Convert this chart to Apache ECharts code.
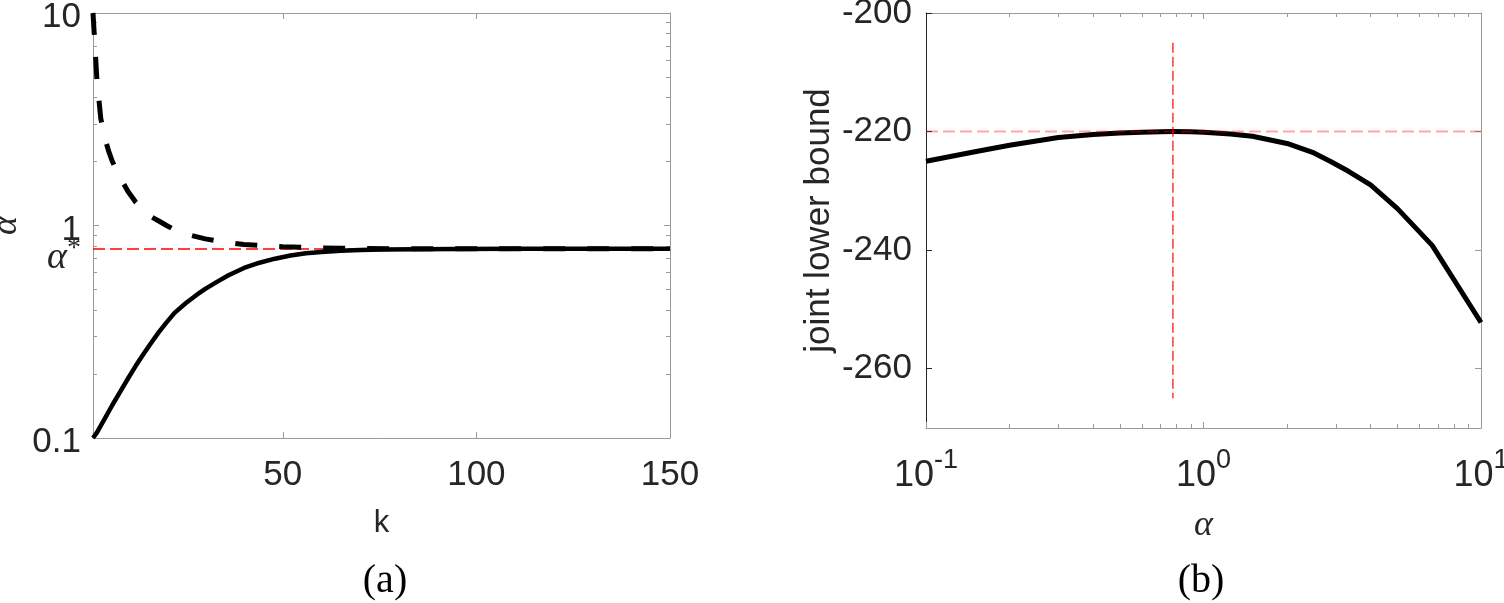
<!DOCTYPE html>
<html>
<head>
<meta charset="utf-8">
<script src="https://cdn.jsdelivr.net/npm/echarts@6/dist/echarts.min.js"></script>
<style>
html,body{margin:0;padding:0;background:#fff;}
#chart{width:1504px;height:603px;}
</style>
</head>
<body>
<div id="chart"></div>
<script>
// ---- panel (a) data ----
const kLower = [1,2,4,6,8,10,12,14,16,18,20,22,25,28,30,33,36,40,44,48,52,56,60,65,70,76,85,95,110,130,150];
const alphaLower = [0.100,0.106,0.123,0.143,0.165,0.190,0.218,0.248,0.280,0.315,0.350,0.387,0.432,0.475,0.503,0.543,0.583,0.631,0.668,0.698,0.722,0.740,0.751,0.760,0.766,0.770,0.774,0.776,0.777,0.777,0.777];
const kUpper = [1,2,3,4,5,6,8,10,12,14,16,18,20,22,25,30,35,40,45,50,55,60,65,70,80,90,100,120,150];
const alphaUpper = [10,4.9,3.2,2.6,2.25,2.0,1.68,1.45,1.29,1.18,1.10,1.05,1.00,0.955,0.91,0.865,0.835,0.814,0.803,0.795,0.789,0.784,0.781,0.779,0.777,0.777,0.777,0.777,0.777];
const alphaStar = 0.776;
const kRange = [1, 150];
const kTicks = [50, 100, 150];
const kTopTicks = [50, 100];
const alphaTicksA = [0.1, 1, 10];
const alphaLabelsA = [0.1, alphaStar, 1, 10];
const alphaMinorA = [0.2,0.3,0.4,0.5,0.6,0.7,0.8,0.9,2,3,4,5,6,7,8,9];

// ---- panel (b) data ----
const alphaGrid = [0.1,0.15,0.2,0.3,0.4,0.5,0.6,0.7,0.776,0.9,1.0,1.25,1.5,2.0,2.5,2.86,3.33,4,5,6.67,10];
const jointBound = [-225.0,-223.4,-222.3,-221.0,-220.5,-220.25,-220.1,-220.02,-220.0,-220.03,-220.1,-220.4,-220.8,-222.0,-223.6,-225.0,-226.7,-229.0,-233.0,-239.2,-252.2];
const boundMax = -220;
const alphaRangeB = [0.1, 10];
const vLineRange = [-205, -265];
const boundTicks = [-260, -240, -220, -200];
const alphaTicksB = [0.1, 1, 10];
const alphaMinorB = [0.2,0.3,0.4,0.5,0.6,0.7,0.8,0.9,2,3,4,5,6,7,8,9];

const SANS = 'Liberation Sans, Arial, Helvetica, sans-serif';
const SERIF = 'Liberation Serif, Times New Roman, serif';
const TXT = '#262626';
const GRAY = '#9a9a9a';

const zip = (xs, ys) => xs.map((x, i) => [x, ys[i]]);

function tickAxis(extra) {
  return Object.assign({
    splitLine: {show: false},
    axisLine: {show: false, onZero: false},
    axisLabel: {show: false},
    axisTick: {show: false},
    silent: true
  }, extra);
}

const chart = echarts.init(document.getElementById('chart'), null, {renderer: 'canvas'});

const option = {
  backgroundColor: '#ffffff',
  animation: false,
  grid: [
    {left: 93, top: 13, width: 577, height: 425, outerBoundsMode: 'none', containLabel: false},
    {left: 926, top: 13, width: 555, height: 415, outerBoundsMode: 'none', containLabel: false}
  ],
  xAxis: [
    // 0: panel a bottom
    tickAxis({type: 'value', gridIndex: 0, position: 'bottom', min: kRange[0], max: kRange[1],
      axisLine: {show: true, onZero: false, lineStyle: {color: GRAY, width: 1}},
      axisTick: {show: true, inside: true, length: 6, customValues: kTicks, lineStyle: {color: GRAY}},
      axisLabel: {show: true, customValues: kTicks, margin: 20, color: TXT, fontFamily: SANS, fontSize: 35},
      name: 'k', nameLocation: 'middle', nameGap: 70,
      nameTextStyle: {color: TXT, fontFamily: SANS, fontSize: 31}
    }),
    // 1: panel a top
    tickAxis({type: 'value', gridIndex: 0, position: 'top', min: kRange[0], max: kRange[1],
      axisLine: {show: true, onZero: false, lineStyle: {color: GRAY, width: 1}},
      axisTick: {show: true, inside: true, length: 6, customValues: kTopTicks, lineStyle: {color: GRAY}}
    }),
    // 2: panel b bottom major
    tickAxis({type: 'log', logBase: 10, gridIndex: 1, position: 'bottom', min: alphaRangeB[0], max: alphaRangeB[1],
      axisLine: {show: true, onZero: false, lineStyle: {color: GRAY, width: 1}},
      axisTick: {show: true, inside: true, length: 6, customValues: alphaTicksB, lineStyle: {color: GRAY}},
      axisLabel: {show: true, customValues: alphaTicksB, margin: 19, color: TXT, fontFamily: SANS, fontSize: 35,
        formatter: function (v) {
          const e = Math.round(Math.log10(v));
          return '{m|10}{s|' + e + '}';
        },
        rich: {
          m: {fontFamily: SANS, fontSize: 36, lineHeight: 36, color: TXT, verticalAlign: 'bottom'},
          s: {fontFamily: SANS, fontSize: 27, lineHeight: 47, color: TXT, verticalAlign: 'top', padding: [0, 0, 20, 0]}
        }
      },
      name: 'α', nameLocation: 'middle', nameGap: 80,
      nameTextStyle: {color: TXT, fontFamily: SERIF, fontStyle: 'italic', fontSize: 36}
    }),
    // 3: panel b bottom minor
    tickAxis({type: 'log', logBase: 10, gridIndex: 1, position: 'bottom', min: alphaRangeB[0], max: alphaRangeB[1],
      axisTick: {show: true, inside: true, length: 4, customValues: alphaMinorB, lineStyle: {color: GRAY}}
    }),
    // 4: panel b top major
    tickAxis({type: 'log', logBase: 10, gridIndex: 1, position: 'top', min: alphaRangeB[0], max: alphaRangeB[1],
      axisLine: {show: true, onZero: false, lineStyle: {color: GRAY, width: 1}},
      axisTick: {show: true, inside: true, length: 6, customValues: [1], lineStyle: {color: GRAY}}
    }),
    // 5: panel b top minor
    tickAxis({type: 'log', logBase: 10, gridIndex: 1, position: 'top', min: alphaRangeB[0], max: alphaRangeB[1],
      axisTick: {show: true, inside: true, length: 4, customValues: alphaMinorB, lineStyle: {color: GRAY}}
    })
  ],
  yAxis: [
    // 0: panel a left major + labels
    tickAxis({type: 'log', logBase: 10, gridIndex: 0, position: 'left', min: 0.1, max: 10,
      axisLine: {show: true, onZero: false, lineStyle: {color: GRAY, width: 1}},
      axisTick: {show: true, inside: true, length: 6, customValues: alphaTicksA, lineStyle: {color: GRAY}},
      axisLabel: {show: true, customValues: alphaLabelsA, margin: 12, color: TXT, fontFamily: SANS, fontSize: 35,
        padding: [9, 0, 0, 0],
        formatter: function (v) {
          if (Math.abs(v - alphaStar) < 1e-3) return '{a|α}{s|*}';
          return String(Number(v.toPrecision(6)));
        },
        rich: {
          a: {fontFamily: SERIF, fontStyle: 'italic', fontSize: 38, lineHeight: 48, color: TXT, verticalAlign: 'bottom', padding: [10, 0, 0, 0]},
          s: {fontFamily: SERIF, fontSize: 28, lineHeight: 33, color: TXT, verticalAlign: 'top', padding: [5, 0, 0, 0]}
        }
      },
      name: 'α', nameLocation: 'middle', nameGap: 68, nameRotate: 90,
      nameTextStyle: {color: TXT, fontFamily: SERIF, fontStyle: 'italic', fontSize: 36}
    }),
    // 1: panel a left minor
    tickAxis({type: 'log', logBase: 10, gridIndex: 0, position: 'left', min: 0.1, max: 10,
      axisTick: {show: true, inside: true, length: 4, customValues: alphaMinorA, lineStyle: {color: GRAY}}
    }),
    // 2: panel a right major
    tickAxis({type: 'log', logBase: 10, gridIndex: 0, position: 'right', min: 0.1, max: 10,
      axisLine: {show: true, onZero: false, lineStyle: {color: GRAY, width: 1}},
      axisTick: {show: true, inside: true, length: 6, customValues: [1], lineStyle: {color: GRAY}}
    }),
    // 3: panel a right minor
    tickAxis({type: 'log', logBase: 10, gridIndex: 0, position: 'right', min: 0.1, max: 10,
      axisTick: {show: true, inside: true, length: 4, customValues: alphaMinorA, lineStyle: {color: GRAY}}
    }),
    // 4: panel b left
    tickAxis({type: 'value', gridIndex: 1, position: 'left', min: -270, max: -200,
      axisLine: {show: true, onZero: false, lineStyle: {color: TXT, width: 1}},
      axisTick: {show: true, inside: true, length: 6, customValues: boundTicks, lineStyle: {color: TXT}},
      axisLabel: {show: true, customValues: boundTicks, margin: 14, color: TXT, fontFamily: SANS, fontSize: 35,
        padding: [7, 0, 0, 0]},
      name: 'joint lower bound', nameLocation: 'middle', nameGap: 89, nameRotate: 90,
      nameTextStyle: {color: TXT, fontFamily: SANS, fontSize: 35}
    }),
    // 5: panel b right
    tickAxis({type: 'value', gridIndex: 1, position: 'right', min: -270, max: -200,
      axisLine: {show: true, onZero: false, lineStyle: {color: GRAY, width: 1}},
      axisTick: {show: true, inside: true, length: 6, customValues: boundTicks, lineStyle: {color: GRAY}}
    })
  ],
  series: [
    {type: 'line', xAxisIndex: 0, yAxisIndex: 0, data: zip(kRange, [alphaStar, alphaStar]), showSymbol: false, symbol: 'none',
      lineStyle: {color: '#ff0000', width: 1.5, type: [12, 5]}, z: 2, silent: true},
    {type: 'line', xAxisIndex: 0, yAxisIndex: 0, data: zip(kLower, alphaLower), showSymbol: false, symbol: 'none', smooth: false,
      lineStyle: {color: '#000000', width: 4.5}, z: 3, silent: true},
    {type: 'line', xAxisIndex: 0, yAxisIndex: 0, data: zip(kUpper, alphaUpper), showSymbol: false, symbol: 'none', smooth: false,
      lineStyle: {color: '#000000', width: 5, type: [22, 22]}, z: 3, silent: true},
    {type: 'line', xAxisIndex: 2, yAxisIndex: 4, data: zip(alphaGrid, jointBound), showSymbol: false, symbol: 'none',
      lineStyle: {color: '#000000', width: 5, join: 'round'}, z: 3, silent: true},
    {type: 'line', xAxisIndex: 2, yAxisIndex: 4, data: zip(alphaRangeB, [boundMax, boundMax]), showSymbol: false, symbol: 'none',
      lineStyle: {color: 'rgba(255,0,0,0.35)', width: 2, type: [12, 5]}, z: 4, silent: true},
    {type: 'line', xAxisIndex: 2, yAxisIndex: 4, data: zip([alphaStar, alphaStar], vLineRange), showSymbol: false, symbol: 'none',
      lineStyle: {color: '#ff0000', width: 1.2, type: [10, 4]}, z: 4, silent: true}
  ],
  graphic: [
    {type: 'text', x: 385, y: 581, silent: true,
      style: {text: '(a)', fill: '#000', font: '40px ' + SERIF, textAlign: 'center', textVerticalAlign: 'middle'}},
    {type: 'text', x: 1201, y: 581, silent: true,
      style: {text: '(b)', fill: '#000', font: '40px ' + SERIF, textAlign: 'center', textVerticalAlign: 'middle'}}
  ]
};

chart.setOption(option);
</script>
</body>
</html>
